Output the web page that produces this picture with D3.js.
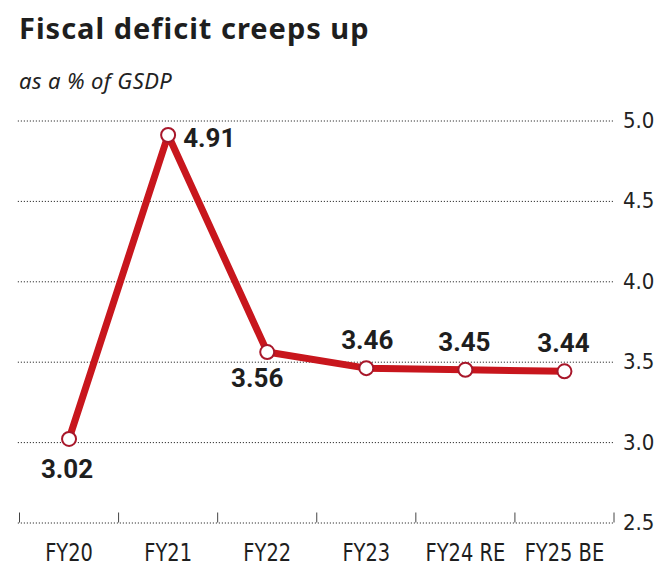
<!DOCTYPE html>
<html lang="en">
<head>
    <meta charset="UTF-8">
    <title>Fiscal deficit creeps up</title>
    <script src="https://cdnjs.cloudflare.com/ajax/libs/d3/7.8.5/d3.min.js"></script>
    <style>
        body { margin: 0; background: #fff; }
        .narrow { font-family: "Liberation Sans Narrow", "DejaVu Sans", sans-serif; font-stretch: condensed; }
    </style>
</head>
<body>
    <div id="wrapper"></div>
    <script>
        // data
        const categories = ['FY20', 'FY21', 'FY22', 'FY23', 'FY24 RE', 'FY25 BE']
        const deficit = [3.02, 4.91, 3.56, 3.46, 3.45, 3.44]
        const yTicks = [2.5, 3.0, 3.5, 4.0, 4.5, 5.0]

        const dataset = categories.map((c, i) => ({ year: c, value: deficit[i] }))

        const dimensions = {
            width: 660,
            height: 576,
            left: 19.5,
            right: 614,
            top: 120.5,
            bottom: 522.5
        }

        const svg = d3.select('#wrapper')
            .append('svg')
                .attr('width', dimensions.width)
                .attr('height', dimensions.height)

        // title
        svg.append('text')
            .attr('x', 19)
            .attr('y', 39)
            .attr('fill', '#1e1e1e')
            .style('font-family', '"Noto Sans", sans-serif')
            .style('font-weight', 700)
            .style('font-size', '29px')
            .style('letter-spacing', '1px')
            .text('Fiscal deficit creeps up')

        svg.append('text')
            .attr('x', 19)
            .attr('y', 89)
            .attr('fill', '#222')
            .style('font-family', '"Noto Sans", sans-serif')
            .style('font-style', 'italic')
            .style('font-size', '22px')
            .style('letter-spacing', '0.4px')
            .text('as a % of GSDP')

        // scales
        const xScale = d3.scaleBand()
            .domain(categories)
            .range([dimensions.left, dimensions.right])

        const yScale = d3.scaleLinear()
            .domain([2.5, 5])
            .range([dimensions.bottom, dimensions.top])

        const xCenter = d => xScale(d.year) + xScale.bandwidth() / 2
        const yPos = d => yScale(d.value)

        // gridlines (right axis)
        const yAxisGenerator = d3.axisRight(yScale)
            .tickValues(yTicks)
            .tickSize(-(dimensions.right - 17))
            .tickPadding(10)
            .tickFormat(d3.format('.1f'))

        const yAxis = svg.append('g')
            .attr('transform', `translate(${dimensions.right - 1}, 0)`)
            .call(yAxisGenerator)
        yAxis.select('.domain').remove()
        yAxis.selectAll('line')
            .attr('stroke', '#333')
            .attr('stroke-width', 1)
            .attr('stroke-dasharray', '1.2,1.8')
        yAxis.selectAll('text')
            .attr('class', 'narrow')
            .attr('fill', '#222')
            .style('font-size', '22px')

        // x axis with boundary ticks
        const xAxisGenerator = d3.axisBottom(xScale)
            .tickSize(0)
            .tickPadding(21)
        const xAxis = svg.append('g')
            .attr('transform', `translate(0, ${dimensions.bottom})`)
            .call(xAxisGenerator)
        xAxis.select('.domain').remove()
        xAxis.selectAll('text')
            .attr('class', 'narrow')
            .attr('fill', '#1e1e1e')
            .attr('transform', 'scale(0.9, 1)')
            .style('font-size', '24px')
        // keep labels centred after the horizontal squeeze
        xAxis.selectAll('.tick')
            .attr('transform', d => `translate(${xScale(d) + xScale.bandwidth() / 2}, 0)`)

        const bounds = categories.concat(['end'])
        xAxis.selectAll('.bound')
            .data(bounds)
            .join('line')
                .attr('class', 'bound')
                .attr('x1', (d, i) => i < categories.length ? xScale(d) : dimensions.right)
                .attr('x2', (d, i) => i < categories.length ? xScale(d) : dimensions.right)
                .attr('y1', 0)
                .attr('y2', -10)
                .attr('stroke', '#444')
                .attr('stroke-width', 1)

        // line
        const lineGenerator = d3.line()
            .x(xCenter)
            .y(yPos)

        svg.append('path')
            .datum(dataset)
            .attr('d', lineGenerator)
            .attr('fill', 'none')
            .attr('stroke', '#c8161d')
            .attr('stroke-width', 7)
            .attr('stroke-linejoin', 'round')

        svg.selectAll('.dot')
            .data(dataset)
            .join('circle')
                .attr('class', 'dot')
                .attr('cx', xCenter)
                .attr('cy', yPos)
                .attr('r', 7)
                .attr('fill', '#fff')
                .attr('stroke', '#a8172a')
                .attr('stroke-width', 2)

        // value labels
        const labelPos = {
            'FY20': { dx: -2, dy: 39, anchor: 'middle' },
            'FY21': { dx: 15, dy: 12, anchor: 'start' },
            'FY22': { dx: -10, dy: 35, anchor: 'middle' },
            'FY23': { dx: 1, dy: -19, anchor: 'middle' },
            'FY24 RE': { dx: -1, dy: -19, anchor: 'middle' },
            'FY25 BE': { dx: -1, dy: -19, anchor: 'middle' }
        }

        svg.selectAll('.val')
            .data(dataset)
            .join('text')
                .attr('class', 'val')
                .attr('x', d => xCenter(d) + labelPos[d.year].dx)
                .attr('y', d => yPos(d) + labelPos[d.year].dy)
                .attr('text-anchor', d => labelPos[d.year].anchor)
                .attr('fill', '#1e1e1e')
                .style('font-family', 'Roboto, sans-serif')
                .style('font-weight', 700)
                .style('font-size', '26px')
                .text(d => d3.format('.2f')(d.value))
    </script>
</body>
</html>
